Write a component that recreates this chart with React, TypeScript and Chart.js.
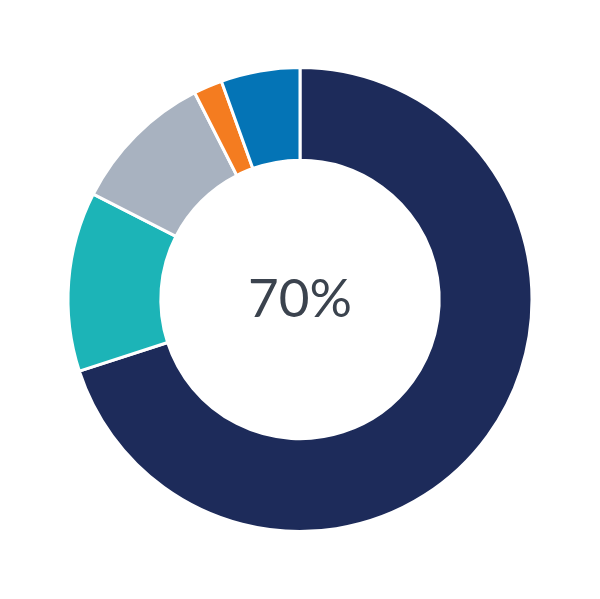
import { useEffect, useRef } from "react";
import { Chart, registerables } from "chart.js";

Chart.register(...registerables);

const labels = ["Navy", "Teal", "Gray", "Orange", "Blue"];
const values = [70, 12.5, 10, 2, 5.5];
const colors = ["#1d2b5a", "#1cb4b7", "#a8b2c0", "#f47c20", "#0474b6"];
const centerText = "70%";

const centerLabel = {
  id: "centerLabel",
  afterDraw(chart: any) {
    const meta = chart.getDatasetMeta(0);
    const arc = meta.data[0];
    if (!arc) return;
    const { ctx } = chart;
    ctx.save();
    ctx.font = "400 53px Lato";
    ctx.fillStyle = "#3b434e";
    ctx.textAlign = "center";
    ctx.textBaseline = "middle";
    ctx.fillText(centerText, arc.x, arc.y);
    ctx.restore();
  },
};

const App = () => {
  const canvasRef = useRef<HTMLCanvasElement | null>(null);
  const chartRef = useRef<Chart | null>(null);

  useEffect(() => {
    document.body.style.margin = "0";
    if (chartRef.current) chartRef.current.destroy();
    if (canvasRef.current) {
      chartRef.current = new Chart(canvasRef.current, {
        type: "doughnut",
        data: {
          labels,
          datasets: [
            {
              data: values,
              backgroundColor: colors,
              borderColor: "#ffffff",
              borderWidth: 3,
            },
          ],
        },
        options: {
          animation: false,
          responsive: true,
          maintainAspectRatio: false,
          cutout: "60%",
          layout: { padding: 66 },
          plugins: {
            legend: { display: false },
            tooltip: { enabled: false },
          },
        },
        plugins: [centerLabel],
      });
    }
    return () => {
      if (chartRef.current) {
        chartRef.current.destroy();
        chartRef.current = null;
      }
    };
  }, []);

  return (
    <div style={{ width: "600px", height: "599px", background: "#fff" }}>
      <canvas ref={canvasRef} />
    </div>
  );
};

export default App;
